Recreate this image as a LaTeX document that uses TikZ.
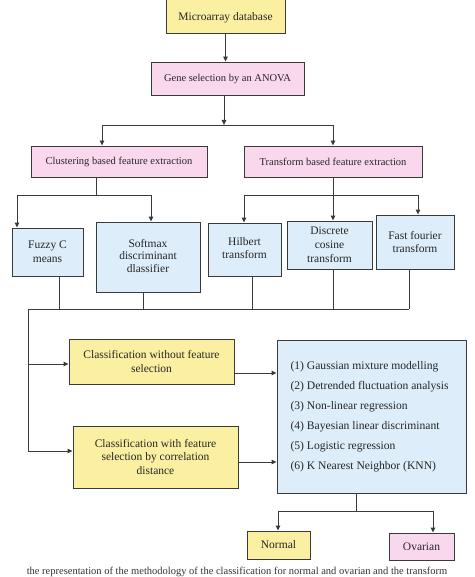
\documentclass[tikz,border=0pt]{standalone}
\usepackage{fontspec}
\setmainfont{Liberation Serif}
\usetikzlibrary{arrows.meta,calc}
\definecolor{ylw}{HTML}{FBEFA2}
\definecolor{pnk}{HTML}{F9D8EE}
\definecolor{blu}{HTML}{DDEDF9}
\definecolor{edgec}{HTML}{3A3A3A}
\begin{document}
\begin{tikzpicture}[x=1pt,y=-1pt,
  box/.style={draw=edgec,line width=0.9pt,inner sep=0pt,align=center,
    font=\fontsize{11.5}{13.8}\selectfont,text=black!85},
  yb/.style={box,fill=ylw},
  pb/.style={box,fill=pnk},
  pbs/.style={pb,font=\fontsize{10.5}{13}\selectfont},
  bb/.style={box,fill=blu},
  ln/.style={draw=edgec,line width=0.9pt},
  arr/.style={ln,-{Triangle[length=5pt,width=4.5pt]}}]
\useasboundingbox (0,0) rectangle (474,577);
\clip (0,0) rectangle (474,577);
\fill[white] (0,0) rectangle (474,577);

% nodes
\node[yb,minimum width=119pt,minimum height=38pt,text height=15.5pt,text depth=2.5pt] (micro) at (225.5,14) {Microarray database};
\node[pbs,minimum width=153pt,minimum height=33pt] (gene) at (227.5,78.5) {Gene selection by an ANOVA};
\node[pbs,minimum width=176pt,minimum height=31pt] (clust) at (119,161.5) {Clustering based feature extraction};
\node[pbs,minimum width=178pt,minimum height=31pt] (trans) at (333,161.5) {Transform based feature extraction};
\node[bb,minimum width=71pt,minimum height=48pt] (fuzzy) at (47.5,252) {Fuzzy C\\means};
\node[bb,minimum width=104pt,minimum height=70pt] (soft) at (148,257) {\raisebox{2pt}{\shortstack{Softmax\\[1pt]discriminant\\[1pt]dlassifier}}};
\node[bb,minimum width=73pt,minimum height=53pt] (hilb) at (244.5,249.5) {\raisebox{3pt}{\shortstack{Hilbert\\[1pt]transform}}};
\node[bb,minimum width=85pt,minimum height=48pt] (disc) at (329.5,245) {Discrete\\cosine\\transform};
\node[bb,minimum width=78pt,minimum height=54pt] (fft) at (415,242) {Fast fourier\\transform};
\node[yb,minimum width=165pt,minimum height=45pt] (cwo) at (151.5,361.5) {Classification without feature\\selection};
\node[yb,minimum width=165pt,minimum height=62pt] (cw) at (155.5,457) {Classification with feature\\selection by correlation\\distance};
\node[bb,minimum width=189pt,minimum height=153pt,align=left,
  font=\fontsize{11.6}{20}\selectfont] (big) at (371.5,416.5) {\raisebox{8pt}{\parbox{162pt}{%
(1) Gaussian mixture modelling\\
(2) Detrended fluctuation analysis\\
(3) Non-linear regression\\
(4) Bayesian linear discriminant\\
(5) Logistic regression\\
(6) K Nearest Neighbor (KNN)}}};
\node[yb,minimum width=63pt,minimum height=28pt] (normal) at (278.5,545) {Normal};
\node[pb,minimum width=65pt,minimum height=27pt] (ovar) at (421.5,546.5) {Ovarian};

% top connectors
\draw[arr] (micro.south) -- (micro.south |- gene.north);
\coordinate (j1) at (224,125);
\coordinate (jl) at (102,125);
\coordinate (jr) at (333,125);
\draw[arr] (gene.south -| j1) -- (j1);
\draw[ln] (jl) -- (jr);
\draw[arr] (jl) -- (jl |- clust.north);
\draw[arr] (jr) -- (jr |- trans.north);

% clustering branch
\coordinate (k1) at (96,195);
\coordinate (kl) at (17,195);
\coordinate (kr) at (151,195);
\draw[ln] (clust.south -| k1) -- (k1);
\draw[ln] (kl) -- (kr);
\draw[arr] (kl) -- (kl |- fuzzy.north);
\draw[arr] (kr) -- (kr |- soft.north);

% transform branch
\coordinate (m1) at (333,195);
\coordinate (ml) at (244,195);
\coordinate (mr) at (418,195);
\draw[ln] (trans.south -| m1) -- (m1);
\draw[ln] (ml) -- (mr);
\draw[arr] (ml) -- (ml |- hilb.north);
\draw[arr] (m1) -- (m1 |- disc.north);
\draw[arr] (mr) -- (mr |- fft.north);

% collector
\coordinate (b0) at (28,309);
\coordinate (bf) at (59,309);
\coordinate (bs) at (143,309);
\coordinate (bh) at (252,309);
\coordinate (bd) at (333,309);
\coordinate (bt) at (409,309);
\draw[ln] (fuzzy.south -| bf) -- (bf);
\draw[ln] (soft.south -| bs) -- (bs);
\draw[ln] (hilb.south -| bh) -- (bh);
\draw[ln] (disc.south -| bd) -- (bd);
\draw[ln] (fft.south -| bt) -- (bt);
\draw[ln] (b0) -- (bt);
\coordinate (c1) at (28,364);
\coordinate (c2) at (28,451);
\draw[ln] (b0) -- (c2);
\draw[arr] (c1) -- (c1 -| cwo.west);
\draw[arr] (c2) -- (c2 -| cw.west);

% to classifier box
\coordinate (d1) at (234,373);
\coordinate (d2) at (238,462);
\draw[arr] (d1 -| cwo.east) -- (d1 -| big.west);
\draw[arr] (d2 -| cw.east) -- (d2 -| big.west);

% outputs
\coordinate (e0) at (356,511);
\coordinate (el) at (278,511);
\coordinate (er) at (433,511);
\draw[ln] (big.south -| e0) -- (e0);
\draw[ln] (el) -- (er);
\draw[arr] (el) -- (el |- normal.north);
\draw[arr] (er) -- (er |- ovar.north);

% caption (cropped in the reference)
\node[anchor=base,inner sep=0pt,font=\fontsize{10.5}{12}\selectfont,text=black!80] (cap) at (237,574)
  {the representation of the methodology of the classification for normal and ovarian and the transform};
\end{tikzpicture}
\end{document}
